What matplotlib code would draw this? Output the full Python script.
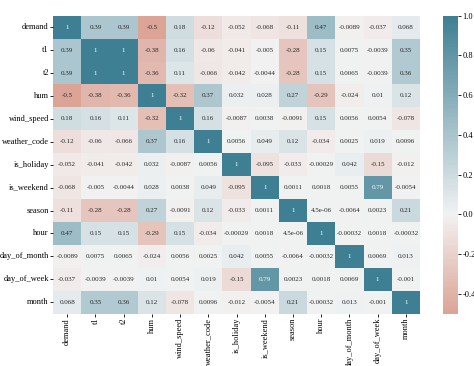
import matplotlib
matplotlib.use("Agg")
import matplotlib.pyplot as plt
import seaborn as sns
import numpy as np
import pandas as pd

labels = ["demand", "t1", "t2", "hum", "wind_speed", "weather_code", "is_holiday",
          "is_weekend", "season", "hour", "day_of_month", "day_of_week", "month"]

demand = [1, 0.39, 0.39, -0.5, 0.18, -0.12, -0.052, -0.068, -0.11, 0.47, -0.0089, -0.037, 0.068]
t1 = [0.39, 1, 1, -0.38, 0.16, -0.06, -0.041, -0.005, -0.28, 0.15, 0.0075, -0.0039, 0.35]
t2 = [0.39, 1, 1, -0.36, 0.11, -0.066, -0.042, -0.0044, -0.28, 0.15, 0.0065, -0.0039, 0.36]
hum = [-0.5, -0.38, -0.36, 1, -0.32, 0.37, 0.032, 0.028, 0.27, -0.29, -0.024, 0.01, 0.12]
wind_speed = [0.18, 0.16, 0.11, -0.32, 1, 0.16, -0.0087, 0.0038, -0.0091, 0.15, 0.0056, 0.0054, -0.078]
weather_code = [-0.12, -0.06, -0.066, 0.37, 0.16, 1, 0.0056, 0.049, 0.12, -0.034, 0.0025, 0.019, 0.0096]
is_holiday = [-0.052, -0.041, -0.042, 0.032, -0.0087, 0.0056, 1, -0.095, -0.033, -0.00029, 0.042, -0.15, -0.012]
is_weekend = [-0.068, -0.005, -0.0044, 0.028, 0.0038, 0.049, -0.095, 1, 0.0011, 0.0018, 0.0055, 0.79, -0.0054]
season = [-0.11, -0.28, -0.28, 0.27, -0.0091, 0.12, -0.033, 0.0011, 1, 4.5e-06, -0.0064, 0.0023, 0.21]
hour = [0.47, 0.15, 0.15, -0.29, 0.15, -0.034, -0.00029, 0.0018, 4.5e-06, 1, -0.00032, 0.0018, -0.00032]
day_of_month = [-0.0089, 0.0075, 0.0065, -0.024, 0.0056, 0.0025, 0.042, 0.0055, -0.0064, -0.00032, 1, 0.0069, 0.013]
day_of_week = [-0.037, -0.0039, -0.0039, 0.01, 0.0054, 0.019, -0.15, 0.79, 0.0023, 0.0018, 0.0069, 1, -0.001]
month = [0.068, 0.35, 0.36, 0.12, -0.078, 0.0096, -0.012, -0.0054, 0.21, -0.00032, 0.013, -0.001, 1]

rows = [demand, t1, t2, hum, wind_speed, weather_code, is_holiday, is_weekend,
        season, hour, day_of_month, day_of_week, month]
corr = pd.DataFrame(rows, index=labels, columns=labels)

plt.rcParams['font.family'] = ['Liberation Serif', 'DejaVu Serif']

fig = plt.figure(figsize=(4.74, 3.66), dpi=100)
ax = fig.add_axes([0.112, 0.143, 0.774, 0.814])
cax = fig.add_axes([0.935, 0.143, 0.032, 0.814])

cmap = sns.diverging_palette(20, 220, as_cmap=True)
sns.heatmap(corr, ax=ax, cbar_ax=cax, cmap=cmap, center=0, annot=True,
            annot_kws={"size": 5})

ax.tick_params(axis='both', labelsize=6.0, length=2, width=0.6, pad=1)
ax.set_xticklabels(labels, rotation=90)
ax.set_yticklabels(labels, rotation=0)
cax.tick_params(labelsize=6, length=2, width=0.6, pad=1)
cax.set_yticks([-0.4, -0.2, 0.0, 0.2, 0.4, 0.6, 0.8, 1.0])
cax.set_yticklabels(["-0.4", "-0.2", "0.0", "0.2", "0.4", "0.6", "0.8", "1.0"])
for s in cax.spines.values():
    s.set_visible(False)

fig.savefig("out.png", dpi=100)
